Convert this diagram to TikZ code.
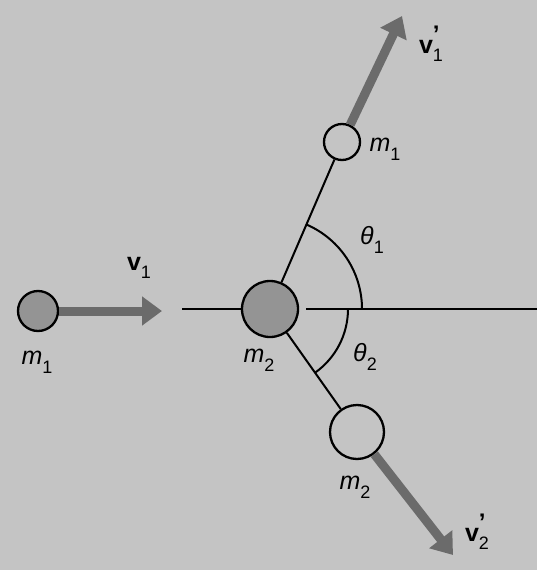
\documentclass[tikz,border=0pt]{standalone}
\usepackage{fontspec}
\setmainfont{Liberation Sans}
\usetikzlibrary{arrows.meta}
\definecolor{bg}{gray}{0.77}
\definecolor{ballfill}{gray}{0.58}
\definecolor{arr}{gray}{0.42}
\tikzset{
  ball/.style={circle,draw=black,line width=2.3pt,inner sep=0pt,minimum size=#1},
  vel/.style={draw=arr,line width=9pt,-{Triangle[length=20pt,width=28pt]}},
  rod/.style={draw=black,line width=2pt},
  lab/.style={font=\fontsize{25}{29}\selectfont, inner sep=0pt},
}
\newcommand{\lowsub}[1]{\raisebox{-0.35em}{\fontsize{18}{21}\selectfont #1}}
\newcommand{\primesub}[1]{\makebox[0pt][l]{\raisebox{0.42em}{\fontsize{24}{28}\selectfont\bfseries\textquoteright}}\lowsub{#1}}
\begin{document}
\begin{tikzpicture}[x=1pt,y=-1pt]
  \fill[bg] (0,0) rectangle (537,578);
  \fill[white] (0,570) rectangle (537,578);
  \useasboundingbox (0,0) rectangle (537,578);

  % balls
  \node[ball=40pt,fill=ballfill] (m1) at (38,311) {};
  \node[ball=56pt,fill=ballfill] (m2) at (270,309) {};
  \node[ball=36pt,fill=none] (m1p) at (342,142) {};
  \node[ball=54pt,fill=none] (m2p) at (357,432) {};

  % free ends
  \coordinate (v1tip) at (162,311);
  \coordinate (hL) at (182,309);
  \coordinate (hR1) at (306,309);
  \coordinate (hR2) at (537,309);
  \coordinate (tip1) at (402,16);
  \coordinate (tip2) at (453,555);

  % rods and lines
  \draw[rod] (hL) -- (m2);
  \draw[rod] (hR1) -- (hR2);
  \draw[rod] (m2) -- (m1p);
  \draw[rod] (m2) -- (m2p);

  % angle arcs
  \draw[rod] (m2.center) ++(0:92) arc[start angle=0,end angle=-66.5,radius=92];
  \draw[rod] (m2.center) ++(0:78) arc[start angle=0,end angle=55,radius=78];

  % velocity arrows
  \draw[vel] (m1) -- (v1tip);
  \draw[vel] (m1p) -- (tip1);
  \draw[vel] (m2p) -- (tip2);

  % labels
  \node[lab] (lv1) at (139,268) {\textbf{v}\lowsub{1}};
  \node[lab] (lm1) at (37,362) {\textit{m}\lowsub{1}};
  \node[lab] (lm2) at (259,360) {\textit{m}\lowsub{2}};
  \node[lab] (lm1p) at (385,149) {\textit{m}\lowsub{1}};
  \node[lab] (lm2p) at (355,487) {\textit{m}\lowsub{2}};
  \node[lab] (lt1) at (372,240) {\textit{θ}\lowsub{1}};
  \node[lab] (lt2) at (365,357) {\textit{θ}\lowsub{2}};
  \node[lab] (lv1p) at (431,44) {\textbf{v}\primesub{1}};
  \node[lab] (lv2p) at (477,532) {\textbf{v}\primesub{2}};
\end{tikzpicture}
\end{document}
